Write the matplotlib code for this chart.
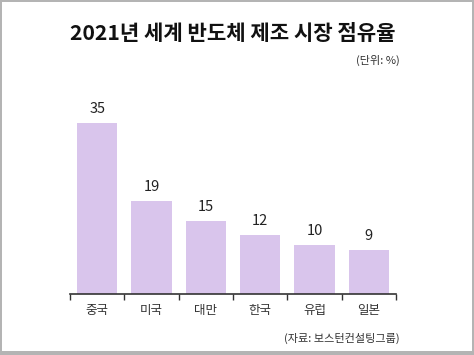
import matplotlib
matplotlib.use("Agg")
import matplotlib.pyplot as plt
from matplotlib.patches import Rectangle

plt.rcParams['font.family'] = ['Noto Sans CJK KR', 'DejaVu Sans']

countries = ['중국', '미국', '대만', '한국', '유럽', '일본']
share = [35, 19, 15, 12, 10, 9]

W, H = 474, 355
fig = plt.figure(figsize=(W/100, H/100), dpi=100)
# grey frame round the picture (thicker at the bottom)
for x0, y0, w, h in [(0, 0, 2, H), (W-2, 0, 2, H), (0, H-1.5, W, 1.5), (0, 0, W, 4.5)]:
    fig.patches.append(Rectangle((x0/W, y0/H), w/W, h/H, transform=fig.transFigure,
                                 color='#b4b4b4', linewidth=0))

ax = fig.add_axes([70/W, 61/H, 326/W, 196/H])
x = range(len(countries))
ax.bar(x, share, width=0.74, color='#d9c5ec')
for i, v in zip(x, share):
    ax.text(i, v + 1.4, str(v), ha='center', va='bottom', fontsize=10.5, color='#222222')

ax.set_xlim(-0.5, len(countries) - 0.5)
ax.set_ylim(0, 40)
ax.set_xticks(list(x))
ax.set_xticklabels(countries, fontsize=9, color='#333333')
ax.set_xticks([i - 0.5 for i in range(len(countries) + 1)], minor=True)
ax.tick_params(axis='x', which='major', length=0, pad=7)
ax.tick_params(axis='x', which='minor', length=4, width=1, color='#333333', direction='out')
ax.set_yticks([])
for s in ['top', 'right', 'left']:
    ax.spines[s].set_visible(False)
ax.spines['bottom'].set_color('#333333')
ax.spines['bottom'].set_linewidth(1.2)

fig.text(233/W, 1 - 34/H, '2021년 세계 반도체 제조 시장 점유율', ha='center', va='center',
         fontsize=15.2, fontweight='bold', color='#111111')
fig.text(400/W, 1 - 60/H, '(단위: %)', ha='right', va='center', fontsize=8, color='#333333')
fig.text(400/W, 1 - 338/H, '(자료: 보스턴컨설팅그룹)', ha='right', va='center',
         fontsize=8, color='#333333')

fig.savefig('out.png', dpi=100)
